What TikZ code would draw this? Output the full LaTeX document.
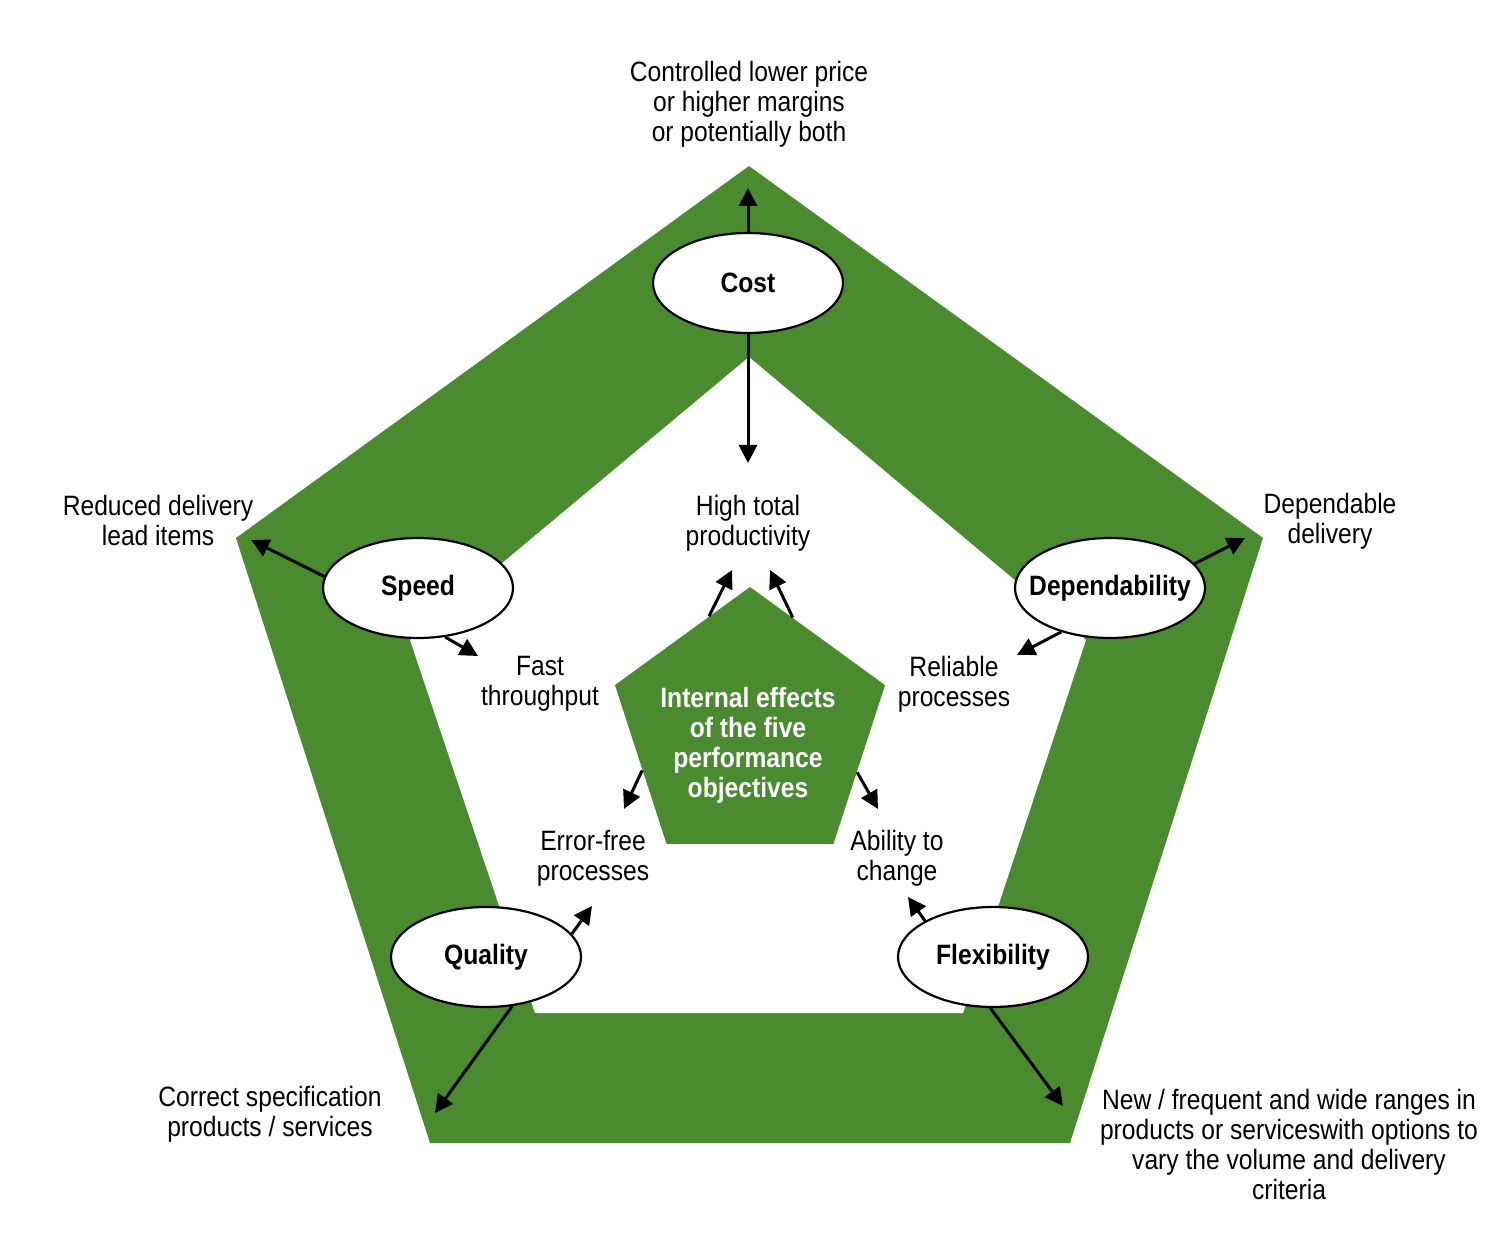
\documentclass[tikz,border=0pt]{standalone}
\usepackage{fontspec}
\setmainfont{Liberation Sans}[FakeStretch=0.88]
\usetikzlibrary{arrows.meta,shapes.geometric}
\definecolor{pgreen}{HTML}{4B8B2F}
\begin{document}
\begin{tikzpicture}[x=0.5pt,y=-0.5pt,
  lbl/.style={align=center,font=\fontsize{14}{15}\selectfont,inner sep=0pt},
  obj/.style={ellipse,draw=black,fill=white,line width=1.1pt,minimum width=95pt,minimum height=50pt,inner xsep=-25pt,inner ysep=0pt,font=\fontsize{14}{15}\selectfont\bfseries},
  arr/.style={line width=1.5pt,-{Triangle[length=9pt,width=9pt]}},
]
\useasboundingbox (0,0) rectangle (1500,1245);
% outer green band
\fill[pgreen] (749,166) -- (1263,538) -- (1070,1143) -- (430,1143) -- (236,538) -- cycle;
\fill[white] (749,357) -- (1086,640) -- (963,1013) -- (535,1013) -- (410,640) -- cycle;
% central pentagon
\node[regular polygon,regular polygon sides=5,minimum size=142pt,inner sep=0pt,fill=pgreen] (ctr) at (750,729) {};
\node[lbl,text=white,font=\fontsize{14}{15}\selectfont\bfseries] (ctrtext) at (748,745) {Internal effects\\of the five\\performance\\objectives};
% objective ellipses
\node[obj] (cost) at (748,283) {Cost};
\node[obj] (speed) at (418,588) {Speed};
\node[obj] (dep) at (1110,588) {Dependability};
\node[obj] (quality) at (486,957) {Quality};
\node[obj] (flex) at (993,957) {Flexibility};
% labels
\node[lbl] (lcost) at (749,104) {Controlled lower price\\or higher margins\\or potentially both};
\node[lbl] (lprod) at (748,523) {High total\\productivity};
\node[lbl] (lspeed) at (158,520) {Reduced delivery\\lead items};
\node[lbl] (ldep) at (1330,521) {Dependable\\delivery};
\node[lbl] (lfast) at (540,684) {Fast\\throughput};
\node[lbl] (lrel) at (954,684) {Reliable\\processes};
\node[lbl] (lerr) at (593,858) {Error-free\\processes};
\node[lbl] (labil) at (897,858) {Ability to\\change};
\node[lbl] (lqual) at (270,1114) {Correct specification\\products / services};
\node[lbl] (lflex) at (1289,1144) {New / frequent and wide ranges in\\products or serviceswith options to\\vary the volume and delivery\\criteria};
% arrow tips
\coordinate (tcost) at (748,188);
\coordinate (tprod) at (748,463);
\coordinate (tspeedL) at (251,540);
\coordinate (tspeedR) at (478,656);
\coordinate (tdepR) at (1245,538);
\coordinate (tdepL) at (1017,655);
\coordinate (tqualU) at (592,906);
\coordinate (tqualD) at (435,1113);
\coordinate (tflexU) at (908,897);
\coordinate (tflexD) at (1063,1106);
\coordinate (tc1) at (732,570);
\coordinate (tc2) at (770,570);
\coordinate (tc3) at (624,809);
\coordinate (tc4) at (878,809);
% arrows
\draw[arr] (cost.north) -- (tcost);
\draw[arr] (cost.south) -- (tprod);
\draw[arr] (speed.173) -- (tspeedL);
\draw[arr] (speed.-61) -- (tspeedR);
\draw[arr] (dep.16) -- (tdepR);
\draw[arr] (dep.222) -- (tdepL);
\draw[arr] (quality.15) -- (tqualU);
\draw[arr] (quality.-62) -- (tqualD);
\draw[arr] (flex.152) -- (tflexU);
\draw[arr] (flex.-93) -- (tflexD);
\draw[arr] (ctr.110.7) -- (tc1);
\draw[arr] (ctr.69.3) -- (tc2);
\draw[arr] (ctr.201.8) -- (tc3);
\draw[arr] (ctr.338.2) -- (tc4);
\end{tikzpicture}
\end{document}
